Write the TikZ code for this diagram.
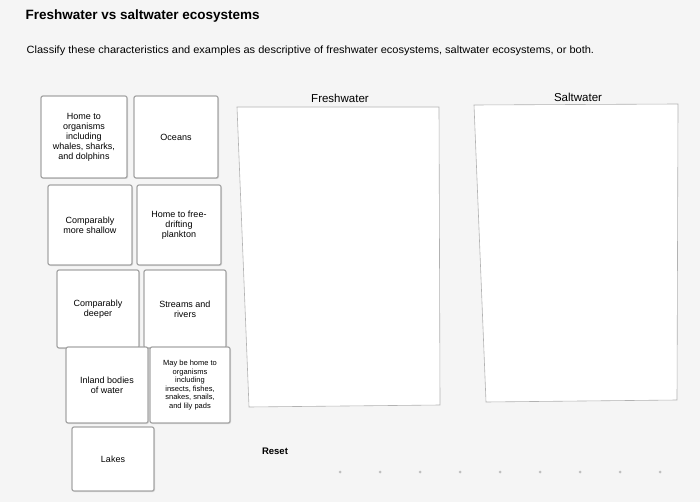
\documentclass[tikz,border=0pt]{standalone}
\usepackage{fontspec}
\setmainfont{Liberation Sans}
\usetikzlibrary{shadows}

\begin{document}
\begin{tikzpicture}[x=1pt,y=-1pt,
    karte/.style={
      rectangle,
      rounded corners=2pt,
      draw=gray!70,
      line width=1.2pt,
      fill=white,
      drop shadow={shadow xshift=1pt,shadow yshift=-1pt,opacity=.25},
      align=center,
      font=\fontsize{9}{10}\selectfont,
      inner sep=1pt},
    feld/.style={
      rectangle,
      draw=gray!60,
      line width=.6pt,
      fill=white},
    kopf/.style={font=\fontsize{11.5}{13}\selectfont}
    ]

  \fill[gray!8] (0,0) rectangle (700,502);
  \useasboundingbox (0,0) rectangle (700,502);

  \node[anchor=west,font=\bfseries\fontsize{13.5}{15}\selectfont] (titel) at (22,16) {Freshwater vs saltwater ecosystems};
  \node[anchor=west,font=\fontsize{10.5}{12}\selectfont,xscale=1.05] (hinweis) at (23,51) {Classify these characteristics and examples as descriptive of freshwater ecosystems, saltwater ecosystems, or both.};

  % karten
  \node[karte,minimum width=86pt,minimum height=82pt] (wale) at (84,137) {Home to\\organisms\\including\\whales, sharks,\\and dolphins};
  \node[karte,minimum width=84pt,minimum height=82pt] (ozean) at (176,137) {Oceans};
  \node[karte,minimum width=84pt,minimum height=80pt] (flach) at (90,225) {Comparably\\more shallow};
  \node[karte,minimum width=84pt,minimum height=80pt] (plankton) at (179,225) {Home to free-\\drifting\\plankton};
  \node[karte,minimum width=82pt,minimum height=78pt] (tief) at (98,309) {Comparably\\deeper};
  \node[karte,minimum width=82pt,minimum height=78pt] (fluss) at (185,309) {Streams and\\rivers};
  \node[karte,minimum width=82pt,minimum height=76pt] (inland) at (107,385) {Inland bodies\\of water};
  \node[karte,minimum width=80pt,minimum height=76pt,font=\fontsize{7.5}{8.5}\selectfont] (insekten) at (190,385) {May be home to\\organisms\\including\\insects, fishes,\\snakes, snails,\\and lily pads};
  \node[karte,minimum width=82pt,minimum height=64pt] (seen) at (113,459) {Lakes};

  % felder
  \node[kopf] (suess) at (340,98) {Freshwater};
  \node[kopf] (salz) at (578,97) {Saltwater};
  \draw[feld] (237,107) -- (439,107) -- (440,405) -- (249,407) -- cycle;
  \draw[feld] (474,105) -- (678,104) -- (677,400) -- (486,402) -- cycle;

  \node[font=\bfseries\fontsize{9.5}{11}\selectfont] (reset) at (275,451) {Reset};
  \foreach \x in {340,380,420,460,500,540,580,620,660}
    \fill[gray!50] (\x,472) circle (1.5pt);

\end{tikzpicture}
\end{document}
